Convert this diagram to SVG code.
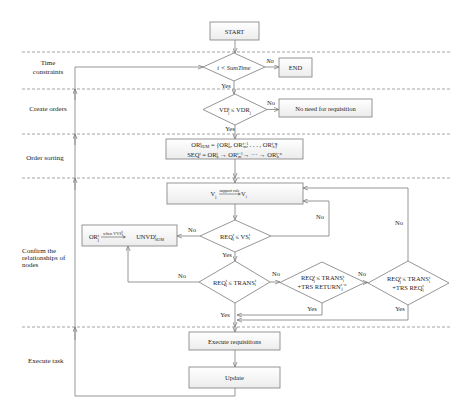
<svg xmlns="http://www.w3.org/2000/svg" width="474" height="418" viewBox="0 0 474 418">
<defs>
<linearGradient id="g" x1="0" y1="0" x2="0" y2="1"><stop offset="0" stop-color="#ffffff"/><stop offset="1" stop-color="#ececec"/></linearGradient>
<marker id="a" viewBox="0 0 6 6" refX="6" refY="3" markerUnits="userSpaceOnUse" markerWidth="5" markerHeight="5" orient="auto"><path d="M0,0.5 L6,3 L0,5.5" fill="none" stroke="#7a7a7a" stroke-width="0.9"/></marker>
</defs>
<style>
.bx{fill:url(#g);stroke:#8a8a8a;stroke-width:0.9}
.dm{fill:#fff;stroke:#8a8a8a;stroke-width:0.9}
.ln{fill:none;stroke:#8a8a8a;stroke-width:0.9}
.ar{fill:none;stroke:#8a8a8a;stroke-width:0.9;marker-end:url(#a)}
.ds{stroke:#9a9a9a;stroke-width:0.9;stroke-dasharray:3,2}
text{font-family:"Liberation Serif","Times New Roman",serif;fill:#262626}
.t{font-size:6.5px;text-anchor:middle}
.lb{font-size:6.5px;text-anchor:middle}
.sec{font-size:7px;fill:#222}
.sp{font-size:4.2px}
.tiny{font-size:4.2px;text-anchor:middle}
.it{font-style:italic}
</style>
<rect width="474" height="418" fill="#fff"/>
<g id="dividers">
<line class="ds" x1="22" y1="52" x2="451" y2="52"/>
<line class="ds" x1="22" y1="89" x2="451" y2="89"/>
<line class="ds" x1="22" y1="134" x2="451" y2="134"/>
<line class="ds" x1="22" y1="178" x2="451" y2="178"/>
<line class="ds" x1="22" y1="327" x2="451" y2="327"/>
</g>
<g id="section-labels">
<text class="sec" x="48" y="65" text-anchor="middle">Time</text>
<text class="sec" x="48" y="74" text-anchor="middle">constraints</text>
<text class="sec" x="48" y="111" text-anchor="middle">Create orders</text>
<text class="sec" x="45" y="160" text-anchor="middle">Order sorting</text>
<text class="sec" x="22" y="253">Confirm the</text>
<text class="sec" x="22" y="260">relationships of</text>
<text class="sec" x="22" y="267">nodes</text>
<text class="sec" x="28" y="363">Execute task</text>
</g>
<g id="connectors">
<path class="ar" d="M235,40 V53"/>
<path class="ar" d="M265,67 H279"/>
<path class="ar" d="M234,81 V94"/>
<path class="ar" d="M267,109.5 H279"/>
<path class="ar" d="M235,125 V139"/>
<path class="ar" d="M235,159 V178"/>
<path class="ar" d="M235,178 V183"/>
<path class="ar" d="M235,204 V220"/>
<path class="ar" d="M200,236 H177"/>
<path class="ar" d="M271,236 H329 V201 H303"/>
<path class="ar" d="M235,252 V261"/>
<path class="ar" d="M199,282 H128 V246"/>
<path class="ar" d="M270,282 H280"/>
<path class="ar" d="M365,282.5 H368"/>
<path class="ar" d="M408,261 V188 H303"/>
<path class="ar" d="M322,303 V315 H237"/>
<path class="ar" d="M408,305 V320 H237"/>
<path class="ar" d="M235,303 V327"/>
<path class="ar" d="M235,327 V332"/>
<path class="ar" d="M235,350 V367"/>
<path class="ln" d="M235,388 V396 H75 V67"/>
<path class="ar" d="M75,67 H203"/>
<path class="ar" d="M75,340 V327"/>
<path class="ar" d="M75,190 V178"/>
<path class="ar" d="M75,145 V134"/>
<path class="ar" d="M75,100 V89"/>
<text class="lb it" x="270" y="63">No</text>
<text class="lb" x="226" y="88">Yes</text>
<text class="lb" x="271" y="105">No</text>
<text class="lb" x="230" y="131">Yes</text>
<text class="lb" x="192" y="232">No</text>
<text class="lb" x="320" y="219">No</text>
<text class="lb" x="227" y="257">Yes</text>
<text class="lb" x="182" y="278">No</text>
<text class="lb" x="276" y="276">No</text>
<text class="lb" x="362" y="276">No</text>
<text class="lb" x="399" y="225">No</text>
<text class="lb" x="312" y="311">Yes</text>
<text class="lb" x="400" y="311">Yes</text>
<text class="lb" x="225" y="317">Yes</text>
</g>
<g id="start">
<rect class="bx" x="210" y="22" width="49" height="18"/>
<text class="t" x="234.5" y="33.5">START</text>
</g>
<g id="time-check">
<polygon class="dm" points="234,53 265,67 234,81 203,67"/>
<text class="t it" x="234" y="69.5">t &lt; SumTime</text>
</g>
<g id="end">
<rect class="bx" x="279" y="58" width="33" height="19"/>
<text class="t" x="295.5" y="69.5">END</text>
</g>
<g id="vd-check">
<polygon class="dm" points="235,94 267,109.5 235,125 203,109.5"/>
<text class="t" x="235" y="112">VD<tspan class="sp" dy="-2.5">t</tspan><tspan class="sp" dx="-1.3" dy="4">j</tspan><tspan dy="-1.5"> ≤ VDR</tspan><tspan class="sp" dy="1.5">j</tspan></text>
</g>
<g id="no-need">
<rect class="bx" x="279" y="99" width="93" height="18"/>
<text class="t" x="325.5" y="110.5">No need for requisition</text>
</g>
<g id="order-sort">
<rect class="bx" x="166" y="139" width="137" height="20"/>
<text class="t" x="234.5" y="147">OR<tspan class="sp" dy="-2.2">t</tspan><tspan class="sp" dx="-1.3" dy="3.4">SUM</tspan><tspan dy="-1.2"> = {OR</tspan><tspan class="sp" dy="-2.2">t</tspan><tspan class="sp" dx="-1.3" dy="3.4">k</tspan><tspan dy="-1.2">, OR</tspan><tspan class="sp" dy="-2.2">t−1</tspan><tspan class="sp" dx="-5" dy="3.4">m</tspan><tspan dy="-1.2">, . . . , OR</tspan><tspan class="sp" dy="-2.2">t−n</tspan><tspan class="sp" dx="-5" dy="3.4">h</tspan><tspan dy="-1.2">}</tspan></text>
<text class="t" x="234.5" y="157">SEQ<tspan class="sp" dy="-2.2">t</tspan><tspan dy="2.2"> = OR</tspan><tspan class="sp" dy="-2.2">t</tspan><tspan class="sp" dx="-1.3" dy="3.4">k</tspan><tspan dy="-1.2"> → OR</tspan><tspan class="sp" dy="-2.2">t−1</tspan><tspan class="sp" dx="-5" dy="3.4">m</tspan><tspan dy="-1.2"> → ··· → OR</tspan><tspan class="sp" dy="-2.2">t−n</tspan><tspan class="sp" dx="-5" dy="3.4">h</tspan></text>
</g>
<g id="support-rule">
<rect class="bx" x="167" y="183" width="136" height="21"/>
<text class="t" x="213.5" y="196">V<tspan class="sp" dy="1.5">j</tspan></text>
<line x1="219" y1="194" x2="240" y2="194" stroke="#333" stroke-width="0.5"/>
<path d="M238,192.8 L240.5,194 L238,195.2" fill="none" stroke="#333" stroke-width="0.5"/>
<text class="tiny" x="229.5" y="191.5">support rule</text>
<text class="t" x="244" y="196">V<tspan class="sp" dy="1.5">i</tspan></text>
</g>
<g id="vs-check">
<polygon class="dm" points="235,220 271,236 235,252 200,236"/>
<text class="t" x="235" y="238.5">REQ<tspan class="sp" dy="-2.5">t</tspan><tspan class="sp" dx="-1.3" dy="4">j</tspan><tspan dy="-1.5"> ≤ VS</tspan><tspan class="sp" dy="-2.5">t</tspan><tspan class="sp" dx="-1.3" dy="4">i</tspan></text>
</g>
<g id="unvd">
<rect class="bx" x="82" y="225" width="95" height="21"/>
<text class="t" x="94" y="239">OR<tspan class="sp" dy="-2.5">t</tspan><tspan class="sp" dx="-1.3" dy="4">j</tspan></text>
<line x1="101" y1="237" x2="125" y2="237" stroke="#333" stroke-width="0.5"/>
<path d="M123,235.8 L125.5,237 L123,238.2" fill="none" stroke="#333" stroke-width="0.5"/>
<text class="tiny" x="113" y="234.5">when VVS<tspan dy="-1.5">t</tspan><tspan dx="-1" dy="2.5">i</tspan></text>
<text class="t" x="150" y="239">UNVD<tspan class="sp" dy="-2.5">t</tspan><tspan class="sp" dx="-1.3" dy="4">SUM</tspan></text>
</g>
<g id="trans-check">
<polygon class="dm" points="235,261 270,282 235,303 199,282"/>
<text class="t" x="234.5" y="284.5">REQ<tspan class="sp" dy="-2.5">t</tspan><tspan class="sp" dx="-1.3" dy="4">j</tspan><tspan dy="-1.5"> ≤ TRANS</tspan><tspan class="sp" dy="-2.5">t</tspan><tspan class="sp" dx="-1.3" dy="4">i</tspan></text>
</g>
<g id="trans-return-check">
<polygon class="dm" points="322,262 365,282.5 322,303 280,282.5"/>
<text class="t" x="322.5" y="280">REQ<tspan class="sp" dy="-2.5">t</tspan><tspan class="sp" dx="-1.3" dy="4">j</tspan><tspan dy="-1.5"> ≤ TRANS</tspan><tspan class="sp" dy="-2.5">t</tspan><tspan class="sp" dx="-1.3" dy="4">i</tspan></text>
<text class="t" x="322" y="288.5">+TRS RETURN<tspan class="sp" dy="-2.5">t+n</tspan><tspan class="sp" dx="-5" dy="4">j</tspan></text>
</g>
<g id="trans-req-check">
<polygon class="dm" points="408,261 449,283 408,305 368,283"/>
<text class="t" x="408.5" y="281">REQ<tspan class="sp" dy="-2.5">t</tspan><tspan class="sp" dx="-1.3" dy="4">j</tspan><tspan dy="-1.5"> ≤ TRANS</tspan><tspan class="sp" dy="-2.5">t</tspan><tspan class="sp" dx="-1.3" dy="4">i</tspan></text>
<text class="t" x="408" y="289.5">+TRS REQ<tspan class="sp" dy="-2.5">t</tspan><tspan class="sp" dx="-1.3" dy="4">j</tspan></text>
</g>
<g id="execute">
<rect class="bx" x="189" y="332" width="91" height="18"/>
<text class="t" x="234.5" y="343.5">Execute requisitions</text>
</g>
<g id="update">
<rect class="bx" x="189" y="367" width="91" height="21"/>
<text class="t" x="234.5" y="380">Update</text>
</g>
</svg>
